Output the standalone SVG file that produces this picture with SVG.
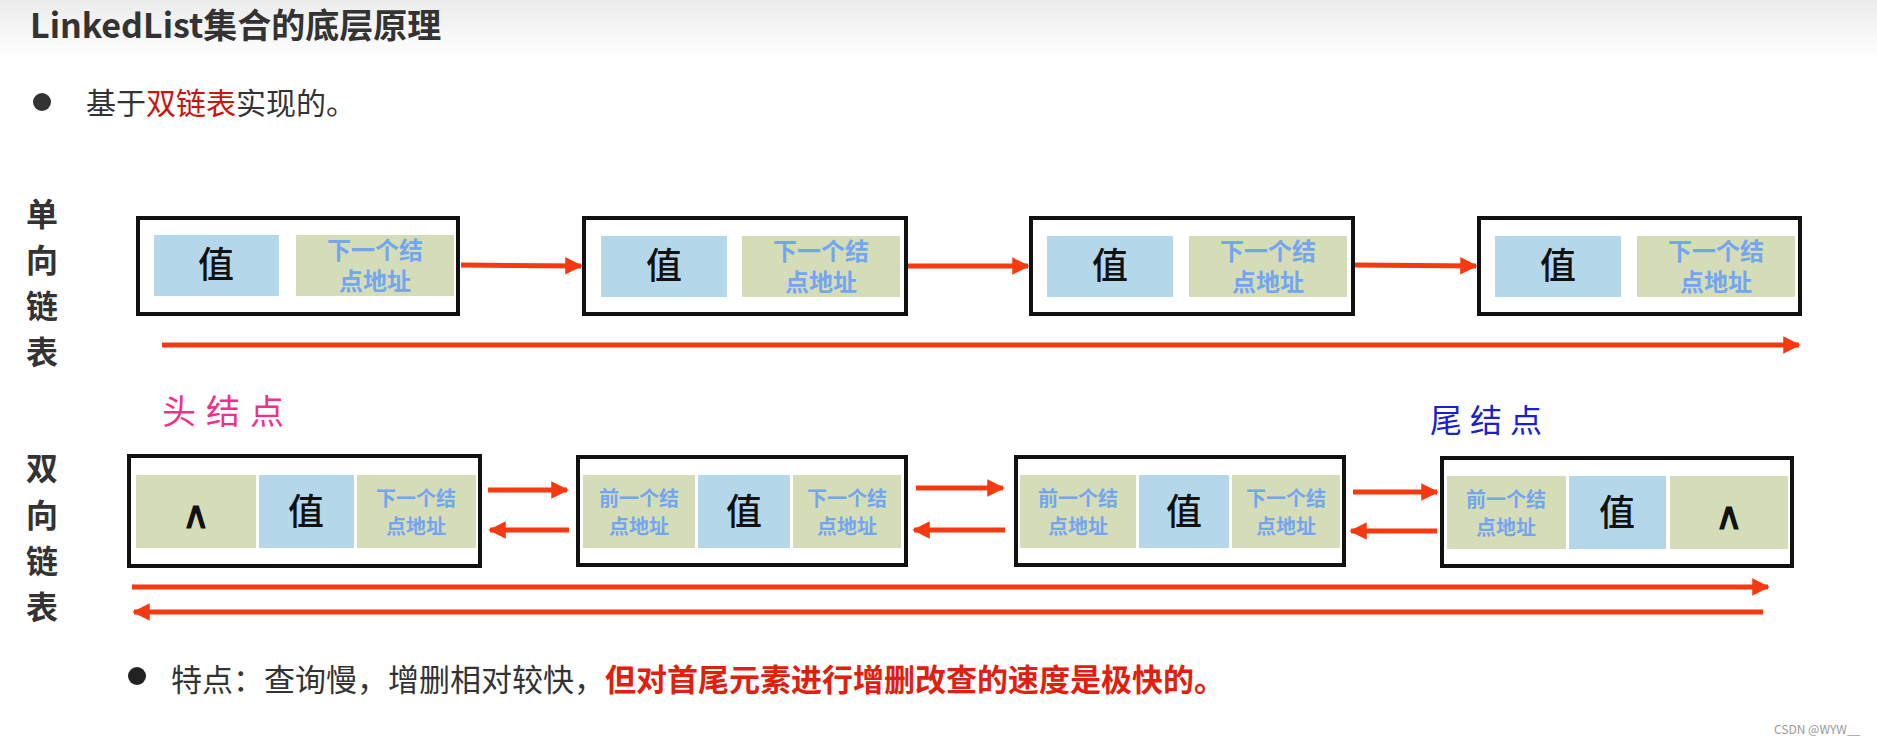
<svg xmlns="http://www.w3.org/2000/svg" width="1877" height="748" viewBox="0 0 1877 748">
<defs>
<linearGradient id="hdr" x1="0" y1="0" x2="0" y2="1"><stop offset="0" stop-color="#ececec"/><stop offset="1" stop-color="#ffffff"/></linearGradient>
<marker id="ah" viewBox="0 0 10 10" refX="9" refY="5" markerWidth="3.5" markerHeight="3.5" orient="auto-start-reverse"><path d="M0,0 L10,5 L0,10 z" fill="#f53a12"/></marker>
<style>
text{font-family:"Noto Sans CJK SC","Liberation Sans",sans-serif}
.box{fill:#fff;stroke:#111;stroke-width:4}
.v{fill:#b4d8ea}
.a{fill:#d5dcb8}
.val{font-size:36px;fill:#111;text-anchor:middle;font-weight:500}
.addr{font-size:24px;fill:#72a6ef;text-anchor:middle;font-weight:bold}
.addr2{font-size:20px;fill:#72a6ef;text-anchor:middle;font-weight:bold}
.nul{font-size:38px;fill:#111;text-anchor:middle;font-weight:bold;font-family:"Liberation Sans",sans-serif}
.lab{font-size:32px;fill:#333;font-weight:bold;text-anchor:middle}
.arr{stroke:#f53a12;stroke-width:5;fill:none;marker-end:url(#ah)}
</style>
</defs>
<rect width="1877" height="748" fill="#fff"/>
<rect width="1877" height="60" fill="url(#hdr)"/>
<text x="30" y="38" font-size="34" font-weight="bold" fill="#333">LinkedList集合的底层原理</text>
<circle cx="42" cy="102" r="9" fill="#333"/>
<text x="86" y="114" font-size="30" fill="#333">基于<tspan fill="#c8140c">双链表</tspan>实现的。</text>
<g id="label1"><text class="lab" x="42" y="226">单</text><text class="lab" x="42" y="272">向</text><text class="lab" x="42" y="318">链</text><text class="lab" x="42" y="364">表</text></g>
<g id="label2"><text class="lab" x="42" y="480">双</text><text class="lab" x="42" y="527">向</text><text class="lab" x="42" y="573">链</text><text class="lab" x="42" y="619">表</text></g>
<g id="s1"><rect class="box" x="138" y="218" width="320" height="96"/><rect class="v" x="154" y="235" width="125" height="61"/><rect class="a" x="296" y="235" width="158" height="61"/><text class="val" x="216" y="278">值</text><text class="addr" x="375" y="259">下一个结</text><text class="addr" x="375" y="290">点地址</text></g>
<g id="s2"><rect class="box" x="584" y="218" width="322" height="96"/><rect class="v" x="601" y="236" width="126" height="61"/><rect class="a" x="742" y="236" width="158" height="61"/><text class="val" x="664" y="279">值</text><text class="addr" x="821" y="260">下一个结</text><text class="addr" x="821" y="291">点地址</text></g>
<g id="s3"><rect class="box" x="1031" y="218" width="322" height="96"/><rect class="v" x="1047" y="236" width="126" height="61"/><rect class="a" x="1189" y="236" width="158" height="61"/><text class="val" x="1110" y="279">值</text><text class="addr" x="1268" y="260">下一个结</text><text class="addr" x="1268" y="291">点地址</text></g>
<g id="s4"><rect class="box" x="1479" y="218" width="321" height="96"/><rect class="v" x="1495" y="236" width="126" height="61"/><rect class="a" x="1637" y="236" width="158" height="61"/><text class="val" x="1558" y="279">值</text><text class="addr" x="1716" y="260">下一个结</text><text class="addr" x="1716" y="291">点地址</text></g>
<text x="162" y="424" font-size="34" fill="#f0308a" letter-spacing="10">头结点</text>
<text x="1430" y="432" font-size="32" fill="#1a20d0" letter-spacing="8">尾结点</text>
<g id="d1"><rect class="box" x="129" y="456" width="351" height="110"/><rect class="a" x="136" y="475" width="120" height="73"/><rect class="v" x="259" y="475" width="95" height="73"/><rect class="a" x="357" y="475" width="119" height="73"/><text class="nul" x="196" y="528">∧</text><text class="val" x="306" y="525">值</text><text class="addr2" x="416" y="506">下一个结</text><text class="addr2" x="416" y="534">点地址</text></g>
<g id="d2"><rect class="box" x="578" y="457" width="328" height="108"/><rect class="a" x="583" y="475" width="112" height="73"/><rect class="v" x="698" y="475" width="92" height="73"/><rect class="a" x="793" y="475" width="108" height="73"/><text class="addr2" x="639" y="506">前一个结</text><text class="addr2" x="639" y="534">点地址</text><text class="val" x="744" y="525">值</text><text class="addr2" x="847" y="506">下一个结</text><text class="addr2" x="847" y="534">点地址</text></g>
<g id="d3"><rect class="box" x="1016" y="457" width="328" height="108"/><rect class="a" x="1020" y="475" width="116" height="73"/><rect class="v" x="1139" y="475" width="90" height="73"/><rect class="a" x="1232" y="475" width="108" height="73"/><text class="addr2" x="1078" y="506">前一个结</text><text class="addr2" x="1078" y="534">点地址</text><text class="val" x="1184" y="525">值</text><text class="addr2" x="1286" y="506">下一个结</text><text class="addr2" x="1286" y="534">点地址</text></g>
<g id="d4"><rect class="box" x="1442" y="458" width="350" height="108"/><rect class="a" x="1447" y="476" width="119" height="73"/><rect class="v" x="1569" y="476" width="97" height="73"/><rect class="a" x="1670" y="476" width="118" height="73"/><text class="addr2" x="1506" y="507">前一个结</text><text class="addr2" x="1506" y="535">点地址</text><text class="val" x="1617" y="526">值</text><text class="nul" x="1729" y="529">∧</text></g>
<g id="connectors">
<line class="arr" x1="461" y1="265" x2="581" y2="266"/>
<line class="arr" x1="908" y1="266" x2="1028" y2="266"/>
<line class="arr" x1="1355" y1="265" x2="1476" y2="266"/>
<line class="arr" x1="162" y1="345" x2="1799" y2="345"/>
<line class="arr" x1="488" y1="490" x2="567" y2="490"/>
<line class="arr" x1="569" y1="530" x2="490" y2="530"/>
<line class="arr" x1="916" y1="488" x2="1003" y2="488"/>
<line class="arr" x1="1005" y1="530" x2="914" y2="530"/>
<line class="arr" x1="1353" y1="492" x2="1437" y2="492"/>
<line class="arr" x1="1437" y1="531" x2="1351" y2="531"/>
<line class="arr" x1="132" y1="587" x2="1768" y2="587"/>
<line class="arr" x1="1763" y1="612" x2="134" y2="612"/>
</g>
<circle cx="137" cy="676" r="9" fill="#222"/>
<text x="171" y="691" font-size="31" fill="#333">特点：查询慢，增删相对较快，<tspan fill="#e0200e" font-weight="bold">但对首尾元素进行增删改查的速度是极快的。</tspan></text>
<text x="1774" y="734" font-size="12" fill="#999">CSDN @WYW__</text>
</svg>
